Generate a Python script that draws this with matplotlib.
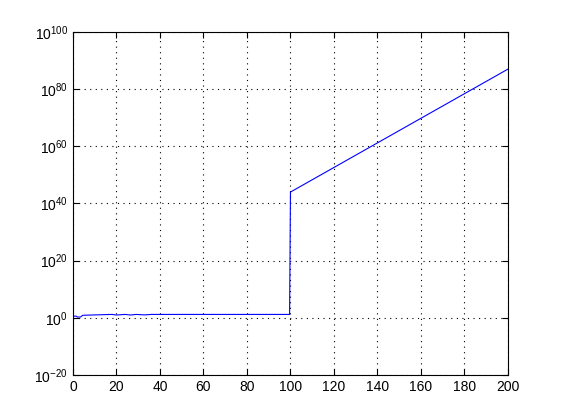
import numpy as np
import matplotlib
matplotlib.use('Agg')
import matplotlib.pyplot as plt
from matplotlib.ticker import FixedLocator, FuncFormatter, NullLocator

plt.rcParams['font.family'] = ['Liberation Sans', 'DejaVu Sans']
plt.rcParams['mathtext.fontset'] = 'custom'
plt.rcParams['mathtext.rm'] = 'Liberation Sans'
plt.rcParams['mathtext.it'] = 'Liberation Sans:italic'

# Data
x_vals = [0, 1.5, 2, 3.5, 4.5, 8.5, 18, 20, 24, 26.5, 29, 33, 36, 99.6, 99.8, 100, 200]
y_vals = [4.0, 4.0, 2.0, 2.0, 8.0, 10.0, 16.0, 10.0, 16.0, 10.0, 16.0, 11.0, 16.0,
          16.0, 1e22, 1e44, 1e87]

x_ticks = [0, 20, 40, 60, 80, 100, 120, 140, 160, 180, 200]
y_exps = [-20, 0, 20, 40, 60, 80, 100]

fig = plt.figure(figsize=(5.61, 4.2), dpi=100)
ax = fig.add_axes([0.13, 0.107, 0.7755, 0.817])

ax.semilogy(x_vals, y_vals, color='#0000ff', linewidth=0.8)

ax.set_xlim(0, 200)
ax.set_ylim(1e-20, 1e100)
ax.set_xticks(x_ticks)
ax.yaxis.set_major_locator(FixedLocator([10.0 ** e for e in y_exps]))
ax.yaxis.set_minor_locator(NullLocator())
ax.yaxis.set_major_formatter(FuncFormatter(
    lambda v, p: r'$\mathregular{10^{%d}}$' % round(np.log10(v))))

ax.grid(True, color='black', linestyle=(0, (1, 4)), linewidth=0.8)
ax.tick_params(direction='in', top=True, right=True, length=4, width=0.8,
               labelsize=10, colors='black')
for s in ax.spines.values():
    s.set_linewidth(0.8)

fig.savefig('out.png', dpi=100)
